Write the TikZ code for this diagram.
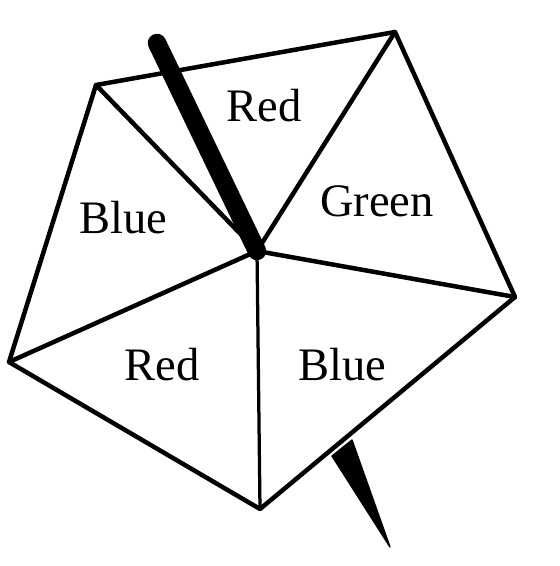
\documentclass[tikz,border=0pt]{standalone}
\usepackage{fontspec}
\setmainfont{Liberation Serif}
\usetikzlibrary{positioning,calc}

\begin{document}
\begin{tikzpicture}[x=0.02cm,y=-0.02cm,
    edge/.style={line width=0.09cm, line join=round, line cap=round},
    thinedge/.style={line width=0.065cm, line cap=round},
    needle/.style={line width=0.37cm, line cap=round},
    colour/.style={inner sep=0pt, anchor=base, font=\fontsize{26.5}{30}\selectfont}]
    \useasboundingbox (0,0) rectangle (560,566);

    % Vertices of the pentagon and the centre
    \coordinate (C) at (257,251);
    \coordinate (UL) at (96,85);
    \coordinate (T) at (395,32);
    \coordinate (R) at (515,297);
    \coordinate (B) at (260,509);
    \coordinate (L) at (9,362);

    % Outline
    \draw[edge] (UL) -- (T) -- (R) -- (B) -- (L) -- cycle;

    % Spokes
    \foreach \v in {UL,T,R,L}
        \draw[edge] (C) -- (\v);
    \draw[thinedge] (C) -- (B);

    % Needles
    \coordinate (ntop) at (157,43);
    \draw[needle] (ntop) -- (C);
    \coordinate (wl) at (332,456);
    \coordinate (wr) at (352,440);
    \coordinate (wtip) at (390,547);
    \fill[line join=round] (wl) -- (wr) -- (wtip) -- cycle;
    \draw[line width=0.8pt, line join=round] (wl) -- (wr) -- (wtip) -- cycle;

    % Colours
    \node[colour] (redtop) at (264,121) {Red};
    \node[colour] (blueleft) at (123,233) {Blue};
    \node[colour] (green) at (377,216) {Green};
    \node[colour] (redbottom) at (162,380) {Red};
    \node[colour] (bluebottom) at (342,380) {Blue};
\end{tikzpicture}
\end{document}
